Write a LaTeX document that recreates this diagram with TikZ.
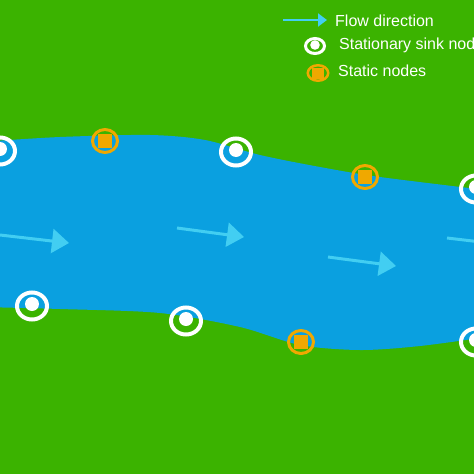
\documentclass[tikz,border=0pt]{standalone}
\usepackage{fontspec}
\setmainfont{Liberation Sans}
\usetikzlibrary{arrows.meta,positioning,shapes.geometric}
\definecolor{land}{RGB}{59,179,0}
\definecolor{water}{RGB}{10,160,224}
\definecolor{flow}{RGB}{66,206,242}
\definecolor{amber}{RGB}{240,168,0}
\tikzset{
  sink/.style={ellipse,draw=white,line width=4pt,minimum width=30pt,minimum height=27pt,inner sep=0pt,
    path picture={\fill[white,shift={(path picture bounding box.center)}] (0pt,2pt) circle (7pt);}},
  smallsink/.style={ellipse,draw=white,line width=3pt,minimum width=19pt,minimum height=15pt,inner sep=0pt,
    path picture={\fill[white,shift={(path picture bounding box.center)}] (0pt,1pt) circle (4.8pt);}},
  static/.style={ellipse,draw=amber,line width=3pt,minimum width=25pt,minimum height=23pt,inner sep=0pt,
    path picture={\fill[amber,shift={(path picture bounding box.center)}] (-7pt,-7pt) rectangle (7pt,7pt);}},
  smallstatic/.style={ellipse,draw=amber,line width=2.5pt,minimum width=20.5pt,minimum height=15.5pt,inner sep=0pt,
    path picture={\fill[amber,shift={(path picture bounding box.center)}] (-6pt,-5.5pt) rectangle (6pt,5.5pt);}},
  flowarrow/.style={draw=flow,line width=3pt,-{Triangle[length=17pt,width=24pt]}},
  legend/.style={text=white,anchor=west,font=\fontsize{16}{18}\selectfont,inner sep=0pt}
}
\begin{document}
\begin{tikzpicture}[x=1pt,y=-1pt]
  \useasboundingbox (0,0) rectangle (474,474);
  \clip (0,0) rectangle (474,474);
  \fill[land] (0,0) rectangle (474,474);
  % river
  \fill[water] plot[smooth] coordinates {(-20,142) (60,137) (150,135) (205,140) (260,155) (320,167) (380,177) (494,191)}
    -- plot[smooth] coordinates {(494,336) (420,346) (360,350) (300,345) (240,327) (160,313) (60,309) (-20,307)} -- cycle;
  % flow arrows
  \foreach \n/\xa/\ya/\xb/\yb in {1/0/235/69/243,2/177/228/244/237,3/328/257/396/266,4/447/238/515/246}{
    \coordinate (fs\n) at (\xa,\ya);
    \coordinate (fe\n) at (\xb,\yb);
    \draw[flowarrow] (fs\n) -- (fe\n);
  }
  % sink nodes
  \foreach \n/\x/\y in {1/0/151,2/236/152,3/476/189,4/32/306,5/186/321,6/476/342}
    \node[sink] (s\n) at (\x,\y) {};
  % static nodes
  \foreach \n/\x/\y in {1/105/141,2/365/177,3/301/342}
    \node[static] (t\n) at (\x,\y) {};
  % legend
  \coordinate (la) at (283,20);
  \coordinate (lb) at (327,20);
  \draw[draw=flow,line width=2pt,-{Triangle[length=9pt,width=13pt]}] (la) -- (lb);
  \node[legend] (lflow) at (335,21) {Flow direction};
  \node[smallsink] (lsink) at (315,46) {};
  \node[legend] (lsinktext) at (339,45) {Stationary sink nodes};
  \node[smallstatic] (lstatic) at (318,73) {};
  \node[legend] (lstatictext) at (338,71) {Static nodes};
\end{tikzpicture}
\end{document}
